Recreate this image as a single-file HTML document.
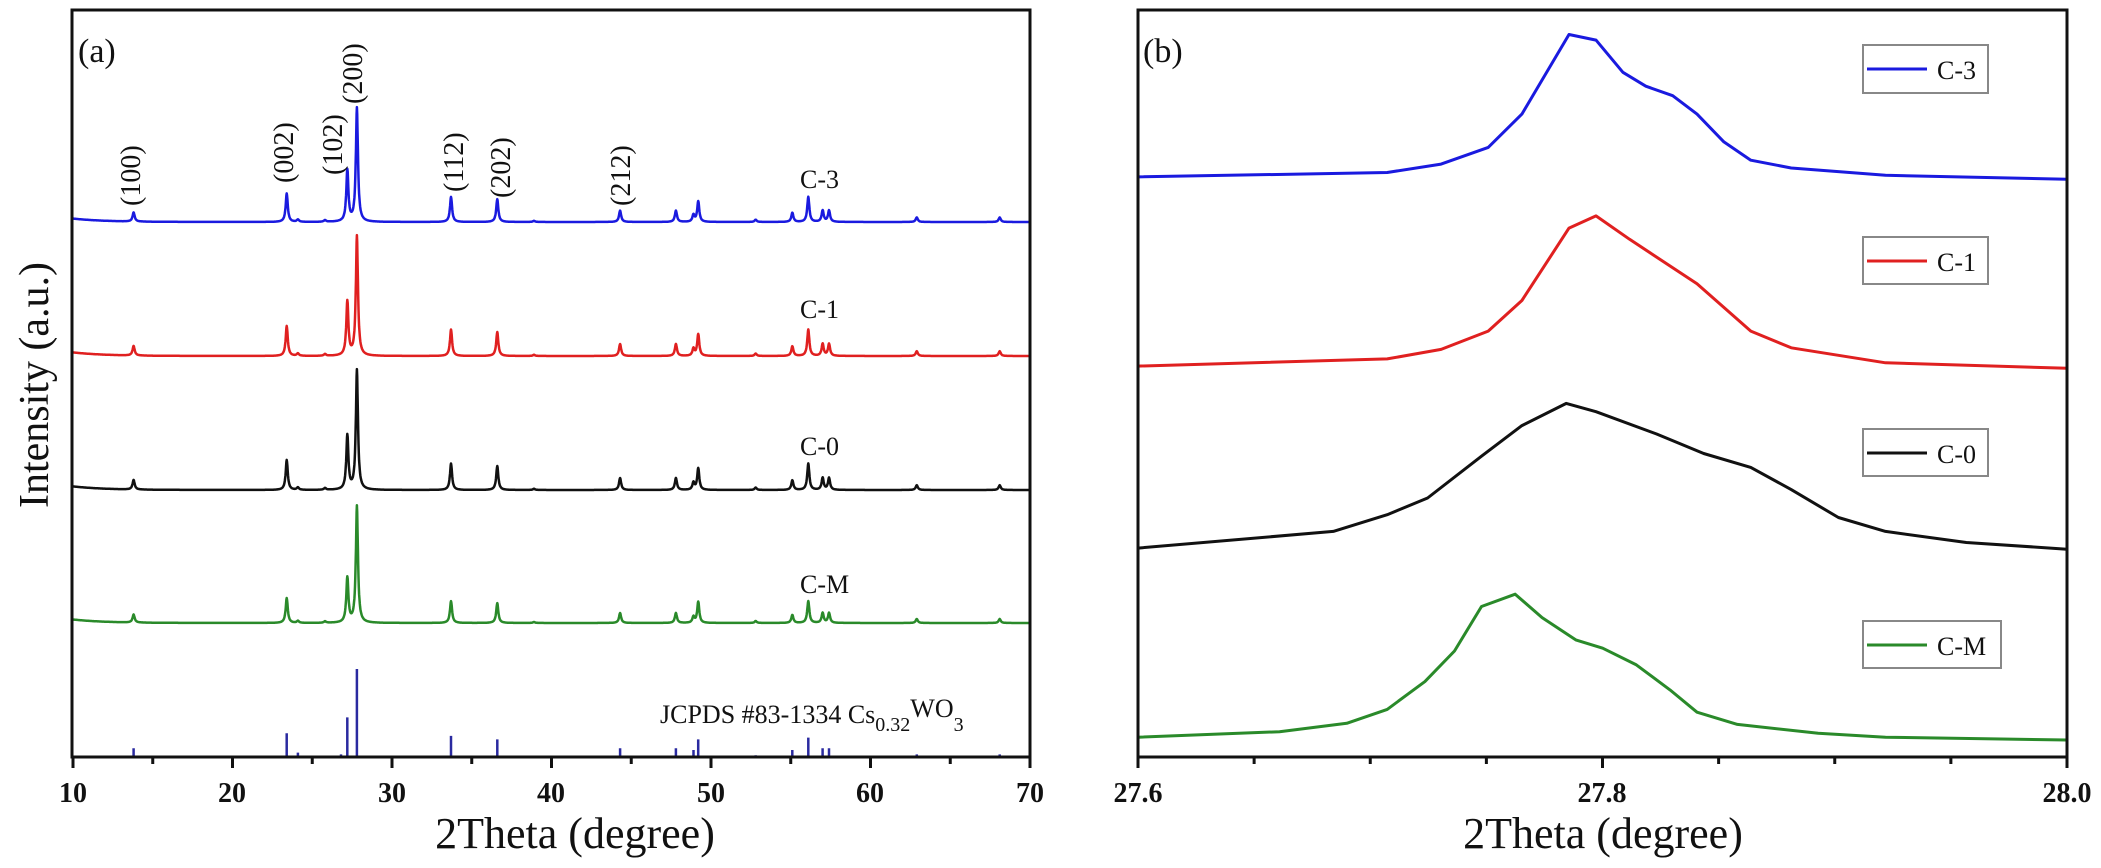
<!DOCTYPE html>
<html><head><meta charset="utf-8"><style>
html,body{margin:0;padding:0;background:#fff;}
svg{display:block;}
text{font-family:"Liberation Serif",serif;}
</style></head><body>
<svg id="s" width="2101" height="868" viewBox="0 0 2101 868" xmlns="http://www.w3.org/2000/svg">
<rect width="2101" height="868" fill="#fff"/>
<g id="plots" fill="none" stroke-width="2.5" stroke-linejoin="round"></g>
<rect x="72" y="10" width="958" height="747" fill="none" stroke="#111" stroke-width="3"/>
<rect x="1138" y="10" width="929" height="747" fill="none" stroke="#111" stroke-width="3"/>
<g id="ticks" stroke="#111" stroke-width="3"></g>
<g font-size="28" font-weight="bold" text-anchor="middle" fill="#111">
<text x="73" y="802">10</text><text x="232" y="802">20</text><text x="392" y="802">30</text>
<text x="551" y="802">40</text><text x="711" y="802">50</text><text x="870" y="802">60</text><text x="1030" y="802">70</text>
<text x="1138" y="802">27.6</text><text x="1602" y="802">27.8</text><text x="2067" y="802">28.0</text>
</g>
<text x="575" y="848" font-size="44" text-anchor="middle" fill="#111">2Theta (degree)</text>
<text x="1603" y="848" font-size="44" text-anchor="middle" fill="#111">2Theta (degree)</text>
<text transform="translate(48,385) rotate(-90)" font-size="42" text-anchor="middle" fill="#111">Intensity (a.u.)</text>
<text x="78" y="62" font-size="34" fill="#111">(a)</text>
<text x="1143" y="62" font-size="34" fill="#111">(b)</text>
<g font-size="28" fill="#111">
<text transform="translate(140,206) rotate(-90)">(100)</text>
<text transform="translate(293,183) rotate(-90)">(002)</text>
<text transform="translate(342,175) rotate(-90)">(102)</text>
<text transform="translate(362,104) rotate(-90)">(200)</text>
<text transform="translate(463,192) rotate(-90)">(112)</text>
<text transform="translate(510,198) rotate(-90)">(202)</text>
<text transform="translate(630,206) rotate(-90)">(212)</text>
</g>
<g font-size="26" fill="#111">
<text x="800" y="188">C-3</text>
<text x="800" y="318">C-1</text>
<text x="800" y="455">C-0</text>
<text x="800" y="593">C-M</text>
<text x="660" y="723">JCPDS #83-1334 Cs<tspan font-size="20" dy="8">0.32</tspan><tspan dy="-14">WO</tspan><tspan font-size="20" dy="14">3</tspan></text>
</g>
<g font-size="26" fill="#111">
<rect x="1863" y="45" width="125" height="48" fill="#fff" stroke="#888" stroke-width="2"/>
<line x1="1867" y1="69" x2="1927" y2="69" stroke="#1a1adf" stroke-width="3"/>
<text x="1937" y="79">C-3</text>
<rect x="1863" y="237" width="125" height="47" fill="#fff" stroke="#888" stroke-width="2"/>
<line x1="1867" y1="261" x2="1927" y2="261" stroke="#e02020" stroke-width="3"/>
<text x="1937" y="271">C-1</text>
<rect x="1863" y="429" width="125" height="47" fill="#fff" stroke="#888" stroke-width="2"/>
<line x1="1867" y1="453" x2="1927" y2="453" stroke="#111" stroke-width="3"/>
<text x="1937" y="463">C-0</text>
<rect x="1863" y="621" width="138" height="47" fill="#fff" stroke="#888" stroke-width="2"/>
<line x1="1867" y1="645" x2="1927" y2="645" stroke="#2a8a2a" stroke-width="3"/>
<text x="1937" y="655">C-M</text>
</g>
</svg>
<script>
(function(){
var NS="http://www.w3.org/2000/svg";
var plots=document.getElementById('plots'), ticks=document.getElementById('ticks');
function path(d,c,w){var p=document.createElementNS(NS,'path');p.setAttribute('d',d);p.setAttribute('stroke',c);if(w)p.setAttribute('stroke-width',w);plots.appendChild(p);}
function line(x1,y1,x2,y2){var l=document.createElementNS(NS,'line');l.setAttribute('x1',x1);l.setAttribute('y1',y1);l.setAttribute('x2',x2);l.setAttribute('y2',y2);ticks.appendChild(l);}
function X(t){return 73+(t-10)*15.95;}
var pk=[[13.8,.08],[23.4,.25],[24.1,.02],[25.8,.015],[27.2,.45],[27.8,1],[33.7,.22],[36.6,.2],[38.9,.01],[44.3,.1],[47.8,.1],[48.9,.06],[49.2,.18],[52.8,.02],[55.1,.08],[56.1,.22],[57.0,.1],[57.4,.1],[62.9,.04],[68.1,.04]];
var series=[[222,114,'#1a1adf',1],[356,120,'#e02020',1],[490,120,'#111',1],[623,117,'#2a8a2a',.85]];
series.forEach(function(s){
  var d='';
  for(var t=10;t<=70.001;t+=0.02){
    var y=0;
    pk.forEach(function(p){var h=p[1];if(s[3]!=1&&p[0]!=27.8&&p[0]!=49.2)h*=0.85;var dx=(t-p[0])/0.1;y+=h/(1+dx*dx*1.6);});
    y+=0.03*Math.exp(-(t-10)/2);
    d+=(d?'L':'M')+X(t).toFixed(1)+','+(s[0]-y*s[1]).toFixed(1);
  }
  path(d,s[2]);
});
var ref=[[13.8,.1],[23.4,.27],[24.1,.05],[26.8,.03],[27.2,.45],[27.8,1],[33.7,.24],[36.6,.2],[44.3,.1],[47.8,.1],[48.9,.08],[49.2,.2],[52.8,.02],[55.1,.08],[56.1,.22],[57.0,.1],[57.4,.1],[62.9,.03],[68.1,.03]];
var rd='';ref.forEach(function(r){rd+='M'+X(r[0]).toFixed(1)+',757L'+X(r[0]).toFixed(1)+','+(757-r[1]*88).toFixed(1);});
path(rd,'#2a2aa0',2.5);
var sx=1.3468, sy=0.5564;
var B=[
['#1a1adf',[[845,318],[1030,310],[1070,295],[1105,265],[1130,205],[1165,62],[1185,72],[1205,130],[1222,155],[1242,172],[1260,205],[1280,255],[1300,288],[1330,302],[1400,315],[1535,322]]],
['#e02020',[[845,658],[1030,645],[1070,628],[1105,595],[1130,540],[1165,410],[1185,388],[1210,430],[1260,510],[1300,595],[1330,625],[1400,652],[1535,662]]],
['#111',[[845,985],[990,955],[1030,925],[1060,895],[1100,820],[1130,765],[1163,725],[1185,740],[1230,780],[1265,815],[1300,840],[1330,880],[1365,930],[1400,955],[1460,975],[1535,987]]],
['#2a8a2a',[[845,1325],[950,1315],[1000,1300],[1030,1275],[1058,1225],[1080,1170],[1100,1090],[1125,1068],[1145,1110],[1170,1150],[1190,1165],[1215,1195],[1240,1240],[1260,1280],[1290,1302],[1350,1318],[1400,1325],[1535,1330]]]];
B.forEach(function(b){var d='';b[1].forEach(function(p,i){d+=(i?'L':'M')+(Math.min(2067,Math.max(1138,p[0]*sx))).toFixed(1)+','+(p[1]*sy).toFixed(1);});path(d,b[0],3);});
for(var t=10;t<=70;t+=5){var x=X(t);line(x,757,x,t%10==0?768:764);}
for(var i=0;i<=8;i++){var x=1138+i*929/8;line(x,757,x,i%4==0?768:764);}
})();
</script>
</body></html>
